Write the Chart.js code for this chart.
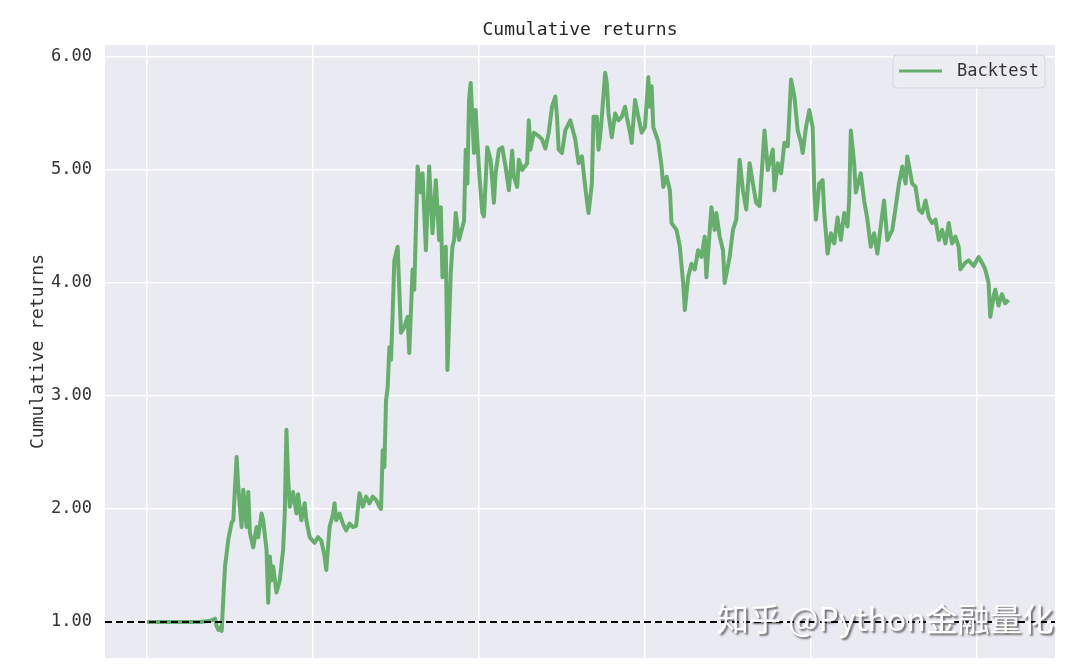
<!DOCTYPE html>
<html>
<head>
<meta charset="utf-8">
<title>Cumulative returns</title>
<script src="https://cdn.jsdelivr.net/npm/chart.js@4.4.1/dist/chart.umd.min.js"></script>
<style>
  html, body { margin: 0; padding: 0; background: #ffffff; }
  #wrap { width: 1080px; height: 664px; }
</style>
</head>
<body>
<div id="wrap"><canvas id="returnsChart" width="1080" height="664"></canvas></div>
<script>
// trading day index (gridlines every 100 days) and cumulative return of the backtest
const days = [
    0, 8, 20, 32, 38, 40, 41, 42, 43, 44, 45,
    46, 47, 49, 51, 52, 53, 54, 55, 57, 58, 60, 61, 62, 64, 66, 67, 69, 70, 72, 73,
    74, 75, 76, 78, 80, 82, 83, 84, 85, 86, 88, 90, 91, 93, 95, 96, 98, 101, 103, 105,
    107, 108, 110, 112, 113, 114, 116, 118, 120, 122, 124, 126, 128, 130, 132, 134, 136, 138, 140,
    141, 142, 143, 144, 145, 146, 147, 148, 149, 151, 153, 155, 157, 158, 160, 161, 163, 165, 166, 168,
    170, 172, 174, 176, 177, 178, 180, 181, 183, 184, 185, 186, 188, 191, 192, 193, 194, 195, 197, 198,
    200, 202, 203, 205, 207, 209, 210, 212, 214, 216, 218,
    220, 221, 223, 224, 226, 229, 230, 231, 233, 236, 238, 240, 242, 244, 246, 247, 248, 250, 252, 255,
    258, 260, 262, 264, 265, 266, 268, 269, 271, 272, 273, 274, 276, 277, 278, 280, 282, 284, 286, 288,
    289, 291, 292, 294, 296, 298, 300, 302, 303, 304, 305,
    308, 310, 311, 313, 315, 316, 319, 321, 323, 324, 326, 328, 330, 332, 334, 336, 337, 340, 342, 343,
    345, 347, 348, 351, 353, 355, 357, 359, 361, 363, 365, 367, 369, 371, 372, 374, 377, 378, 380, 382,
    384, 386, 388, 390, 392, 394, 395, 397, 399, 401,
    402, 403, 405, 407, 408, 410, 412, 414, 416, 418, 420, 422, 423, 424, 426, 427, 430, 432, 434, 436,
    438, 440, 442, 444, 446, 449, 451, 453, 455, 457, 458, 461, 463, 465, 467, 469, 471, 473, 475, 477,
    479, 481, 483, 485, 487, 489, 490, 493, 495, 498, 501, 503, 505, 507, 508, 510, 511, 513, 515, 517, 519
];
const backtest = [
    1.00, 1.00, 1.00, 1.00, 1.01, 1.02, 1.03, 0.96, 0.93, 0.95, 0.92,
    1.22, 1.49, 1.73, 1.88, 1.90, 2.19, 2.46, 2.19, 1.84, 2.17, 1.84, 2.15, 1.79, 1.66, 1.84, 1.75, 1.96, 1.90, 1.64, 1.17,
    1.58, 1.37, 1.49, 1.26, 1.37, 1.64, 1.96, 2.70, 2.28, 2.02, 2.15, 1.96, 2.13, 1.90, 2.05, 1.90, 1.75, 1.70, 1.75, 1.72,
    1.58, 1.46, 1.84, 1.95, 2.05, 1.90, 1.96, 1.87, 1.81, 1.87, 1.84, 1.85, 2.14, 2.02, 2.11, 2.05, 2.11, 2.08, 2.02,
    2.00, 2.52, 2.37, 2.96, 3.08, 3.43, 3.32, 3.73, 4.20, 4.32, 3.56, 3.61, 3.70, 3.38, 4.12, 3.94, 5.03, 4.80, 4.97, 4.29,
    5.03, 4.44, 4.91, 4.38, 4.67, 4.05, 4.32, 3.23, 4.09, 4.32, 4.38, 4.62, 4.38, 4.55, 5.18, 4.88, 5.62, 5.77, 5.15, 5.53,
    5.00, 4.62, 4.59, 5.20, 5.09, 4.71, 4.97, 5.18, 5.20, 5.03, 4.82,
    5.17, 4.94, 4.85, 5.09, 5.00, 5.06, 5.44, 5.18, 5.33, 5.30, 5.27, 5.19, 5.33, 5.56, 5.65, 5.47, 5.18, 5.15, 5.35, 5.44,
    5.27, 5.06, 5.12, 4.85, 4.73, 4.62, 4.88, 5.47, 5.47, 5.18, 5.30, 5.47, 5.86, 5.77, 5.50, 5.29, 5.50, 5.44, 5.47, 5.56,
    5.47, 5.33, 5.24, 5.62, 5.47, 5.33, 5.38, 5.82, 5.56, 5.74, 5.38,
    5.25, 5.03, 4.85, 4.94, 4.82, 4.53, 4.47, 4.32, 4.00, 3.76, 4.05, 4.17, 4.12, 4.29, 4.23, 4.41, 4.05, 4.67, 4.47, 4.62,
    4.41, 4.29, 4.00, 4.23, 4.47, 4.56, 5.09, 4.82, 4.65, 5.06, 4.88, 4.71, 4.68, 5.12, 5.35, 5.00, 5.18, 4.82, 5.06, 4.97,
    5.24, 5.21, 5.80, 5.65, 5.35, 5.24, 5.15, 5.38, 5.53, 5.38,
    4.82, 4.56, 4.88, 4.91, 4.62, 4.26, 4.44, 4.35, 4.58, 4.38, 4.62, 4.50, 4.73, 5.35, 5.06, 4.80, 4.97, 4.73, 4.56, 4.32,
    4.44, 4.26, 4.50, 4.73, 4.38, 4.47, 4.67, 4.88, 5.03, 4.88, 5.12, 4.88, 4.85, 4.65, 4.62, 4.73, 4.58, 4.53, 4.56, 4.38,
    4.47, 4.35, 4.53, 4.35, 4.41, 4.32, 4.12, 4.18, 4.20, 4.15, 4.23, 4.18, 4.12, 4.00, 3.70, 3.88, 3.94, 3.80, 3.90, 3.82, 3.85
];
const yTicks = [1, 2, 3, 4, 5, 6];
const xGridDays = [0, 100, 200, 300, 400, 500];
const baseline = 1.0;

const titleText = 'Cumulative returns';
const yTitleText = 'Cumulative returns';
const seriesLabel = 'Backtest';
const watermark = '知乎 @Python金融量化';

const monoFont = "'DejaVu Sans Mono', 'Liberation Mono', monospace";
const green = '#66ae6c';

const X_MIN = -25.3, X_MAX = 547.0;
const Y_MIN = 0.681, Y_MAX = 6.106;

const points = [];
for (let i = 0; i < Math.min(days.length, backtest.length); i++) {
    points.push({ x: days[i], y: backtest[i] });
}

// seaborn-like plot background
const plotBackground = {
    id: 'plotBackground',
    beforeDraw(chart) {
        const { ctx, chartArea: a } = chart;
        ctx.save();
        ctx.fillStyle = '#eaeaf2';
        ctx.fillRect(a.left, a.top, a.right - a.left, a.bottom - a.top);
        ctx.restore();
    }
};

// title, legend box and watermark drawn on top
const overlay = {
    id: 'overlay',
    afterDraw(chart) {
        const { ctx, chartArea: a } = chart;
        ctx.save();

        ctx.fillStyle = '#262626';
        ctx.font = '18px ' + monoFont;
        ctx.textAlign = 'center';
        ctx.textBaseline = 'middle';
        ctx.fillText(titleText, (a.left + a.right) / 2, 30);

        // legend
        const ds = chart.data.datasets.find(d => d.label === seriesLabel);
        const bw = 152, bh = 33;
        const bx = a.right - 10 - bw, by = a.top + 10;
        ctx.beginPath();
        ctx.roundRect(bx, by, bw, bh, 4);
        ctx.fillStyle = 'rgba(236,236,243,0.9)';
        ctx.fill();
        ctx.strokeStyle = '#d6d6dc';
        ctx.lineWidth = 1;
        ctx.stroke();
        ctx.beginPath();
        ctx.moveTo(bx + 6, by + 16);
        ctx.lineTo(bx + 49, by + 16);
        ctx.strokeStyle = ds.borderColor;
        ctx.lineWidth = 3;
        ctx.stroke();
        ctx.fillStyle = '#333333';
        ctx.font = '17px ' + monoFont;
        ctx.textAlign = 'left';
        ctx.fillText(ds.label, bx + 64, by + 17);

        // watermark
        ctx.font = "32px 'Noto Sans CJK SC', sans-serif";
        ctx.textAlign = 'left';
        ctx.textBaseline = 'middle';
        ctx.shadowColor = 'rgba(0,0,0,0.55)';
        ctx.shadowOffsetX = 2;
        ctx.shadowOffsetY = 2;
        ctx.shadowBlur = 2;
        ctx.fillStyle = '#ffffff';
        ctx.fillText(watermark, 717, 619);
        ctx.restore();
    }
};

const canvas = document.getElementById('returnsChart');
const ctx = canvas.getContext('2d');

new Chart(ctx, {
    type: 'line',
    data: {
        datasets: [{
            label: 'baseline',
            data: [{ x: X_MIN, y: baseline }, { x: X_MAX, y: baseline }],
            borderColor: '#000000',
            borderWidth: 2,
            borderDash: [7, 4],
            pointRadius: 0,
            order: 0
        }, {
            label: seriesLabel,
            data: points,
            borderColor: green,
            borderWidth: 4,
            borderJoinStyle: 'round',
            pointRadius: 0,
            tension: 0,
            order: 1
        }]
    },
    options: {
        responsive: false,
        animation: false,
        layout: { padding: { top: 45, right: 25, bottom: 6, left: 0 } },
        scales: {
            x: {
                type: 'linear',
                min: X_MIN,
                max: X_MAX,
                afterBuildTicks: function (scale) {
                    scale.ticks = xGridDays.map(v => ({ value: v }));
                },
                afterFit: function (scale) {
                    scale.height = 0;
                    scale.paddingLeft = 0;
                    scale.paddingRight = 0;
                },
                ticks: { display: false },
                grid: { color: '#ffffff', lineWidth: 1.5, drawTicks: false },
                border: { display: false }
            },
            y: {
                min: Y_MIN,
                max: Y_MAX,
                afterBuildTicks: function (scale) {
                    scale.ticks = yTicks.map(v => ({ value: v }));
                },
                afterFit: function (scale) {
                    scale.width = 105;
                    scale.paddingTop = 0;
                    scale.paddingBottom = 0;
                },
                ticks: {
                    padding: 13,
                    color: '#333333',
                    font: { family: monoFont, size: 17 },
                    callback: v => Number(v).toFixed(2)
                },
                grid: { color: '#ffffff', lineWidth: 1.5, drawTicks: false },
                border: { display: false },
                title: {
                    display: true,
                    text: yTitleText,
                    color: '#333333',
                    font: { family: monoFont, size: 18 },
                    padding: { top: 28, bottom: 0 }
                }
            }
        },
        plugins: {
            legend: { display: false },
            title: { display: false },
            tooltip: { enabled: false }
        }
    },
    plugins: [plotBackground, overlay]
});
</script>
</body>
</html>
